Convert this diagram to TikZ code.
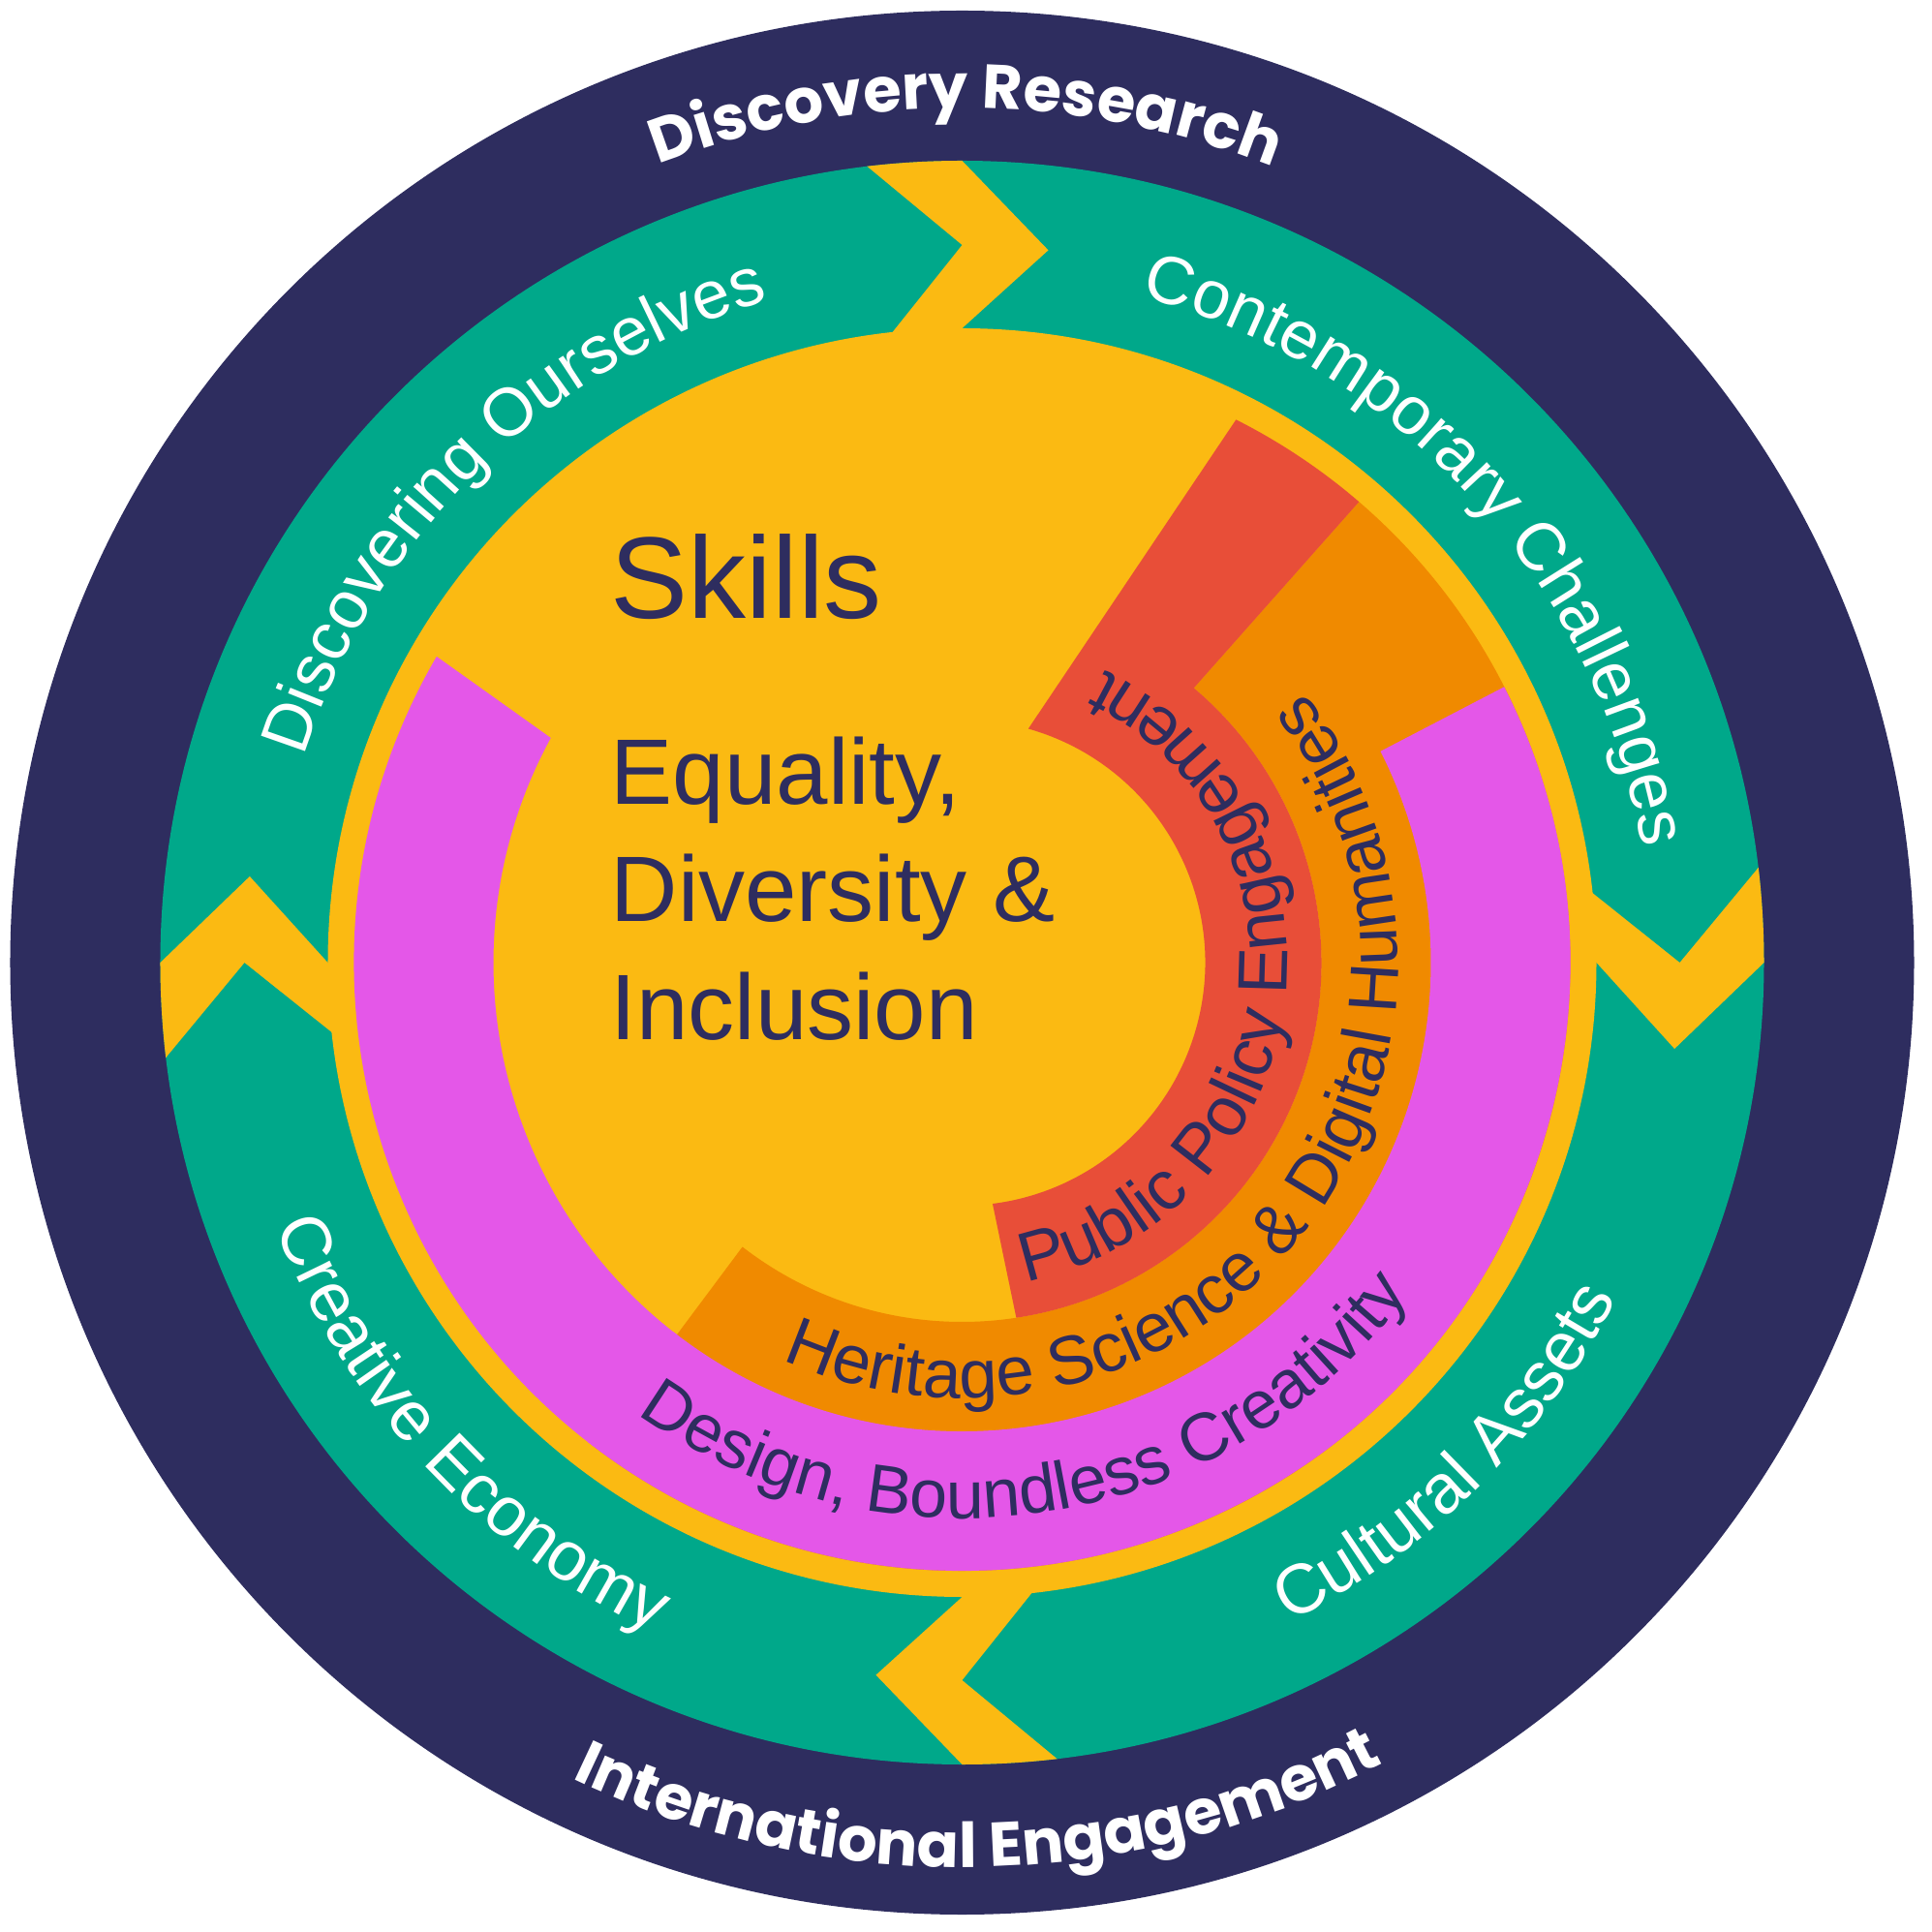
\documentclass[tikz,border=0pt]{standalone}
\usepackage{fontspec}
\setmainfont{Liberation Sans}
\newfontfamily\poppins{Poppins}
\usetikzlibrary{decorations.text,calc}
\definecolor{navy}{RGB}{46,45,95}
\definecolor{grn}{RGB}{0,168,138}
\definecolor{yel}{RGB}{251,186,18}
\definecolor{mag}{RGB}{228,87,232}
\definecolor{org}{RGB}{240,138,0}
\definecolor{rd}{RGB}{232,78,56}
\tikzset{
  boldring/.style={decorate,decoration={text along path,text color=white,text align=center,
     text={|\fontsize{32pt}{40pt}\selectfont\poppins\bfseries|#1}}},
  greenring/.style 2 args={decorate,decoration={text along path,text color=white,text align=center,
     text={|\fontsize{#1}{40pt}\selectfont|#2}}},
  innerring/.style 2 args={decorate,decoration={text along path,text color=navy,text align=center,
     text={|\fontsize{#1}{40pt}\selectfont|#2}}},
  centertext/.style={anchor=base west,inner sep=0pt,text=navy}
}
\begin{document}
\begin{tikzpicture}
\useasboundingbox (-496.75pt,-500.5pt) rectangle (500.25pt,497pt);
\fill[white] (-496.75pt,-500.5pt) rectangle (500.25pt,497pt);
\fill[navy] (0,0) circle[radius=491.5pt];
\fill[grn] (0,0) circle[radius=414pt];
\begin{scope}
  \clip (0,0) circle[radius=414pt];
  \foreach \t in {90,0,270,180} {
    \coordinate (b1) at ({\t+6.8}:414pt);
    \coordinate (bv) at (\t:370.5pt);
    \coordinate (b2) at ({\t+6.3}:327.5pt);
    \coordinate (a1) at (\t:414pt);
    \coordinate (av) at ({\t-6.9}:370.5pt);
    \coordinate (a2) at (\t:327.5pt);
    \fill[yel] ($(bv)!1.5!(b1)$) -- (bv) -- ($(bv)!1.5!(b2)$) -- ($(av)!1.5!(a2)$) -- (av) -- ($(av)!1.5!(a1)$) -- cycle;
  }
\end{scope}
\fill[yel] (0,0) circle[radius=327.5pt];
% magenta
\fill[mag] (151.35:242pt) -- (149.78:314pt) arc[start angle=149.78,end angle=386.96,radius=314pt]
  -- (386.7:242pt) arc[start angle=386.7,end angle=151.35,radius=242pt] -- cycle;
% orange
\fill[org] (232.3:185.5pt) -- (232.7:314pt) arc[start angle=232.7,end angle=409.26,radius=314pt]
  -- (409.84:185.5pt) arc[start angle=409.84,end angle=232.3,radius=185.5pt] -- cycle;
\fill[mag] (232:242pt) arc[start angle=232,end angle=386.8,radius=242pt] -- (386.96:314pt)
  arc[start angle=386.96,end angle=232,radius=314pt] -- cycle;
% red
\fill[rd] (277.2:125.5pt) -- (278.67:185.5pt) arc[start angle=278.67,end angle=409.84,radius=185.5pt]
  -- (409.26:314pt) arc[start angle=409.26,end angle=423.23,radius=314pt]
  -- (434.2:125.5pt) arc[start angle=434.2,end angle=277.2,radius=125.5pt] -- cycle;
% outer ring texts
\path[boldring={Discovery Research}] (179.75:441pt) arc[start angle=179.75,end angle=-0.25,radius=441pt];
\path[boldring={International Engagement}] (181.1:467pt) arc[start angle=181.1,end angle=361.1,radius=467pt];
% green ring texts
\path[greenring={35pt}{Discovering Ourselves}] (224.5:356pt) arc[start angle=224.5,end angle=44.5,radius=356pt];
\path[greenring={35pt}{Contemporary Challenges}] (132.3:356pt) arc[start angle=132.3,end angle=-47.7,radius=356pt];
\path[greenring={36pt}{Cultural Assets}] (224.6:380pt) arc[start angle=224.6,end angle=404.6,radius=380pt];
\path[greenring={36pt}{Creative Economy}] (133.2:380pt) arc[start angle=133.2,end angle=313.2,radius=380pt];
% inner ring texts
\path[innerring={35pt}{Design, Boundless Creativity}] (188.9:287pt) arc[start angle=188.9,end angle=368.9,radius=287pt];
\path[innerring={35.5pt}{Heritage Science {\&} Digital Humanities}] (222:225pt) arc[start angle=222,end angle=422,radius=225pt];
\path[innerring={36pt}{Public Policy Engagement}] (262.6:168pt) arc[start angle=262.6,end angle=442.6,radius=168pt];
% centre texts
\node[centertext,font=\fontsize{60pt}{70pt}\selectfont] (skills) at (-181.5pt,177.5pt) {Skills};
\node[centertext,font=\fontsize{48pt}{60pt}\selectfont] (eq) at (-181.5pt,81.5pt) {Equality,};
\node[centertext,font=\fontsize{48pt}{60pt}\selectfont] (div) at (-181.5pt,21pt) {Diversity \&};
\node[centertext,font=\fontsize{48pt}{60pt}\selectfont] (inc) at (-181.5pt,-39.8pt) {Inclusion};
\end{tikzpicture}
\end{document}
